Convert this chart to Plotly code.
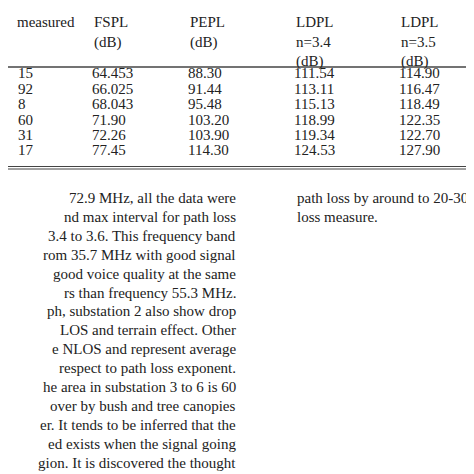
import plotly.graph_objects as go

# table contents (left part of the table is cropped in the scan)
header_cols = ["measured", "FSPL<br>(dB)", "PEPL<br>(dB)", "LDPL<br>n=3.4<br>(dB)", "LDPL<br>n=3.5<br>(dB)"]
measured = ["15", "92", "8", "60", "31", "17"]
fspl = ["64.453", "66.025", "68.043", "71.90", "72.26", "77.45"]
pepl = ["88.30", "91.44", "95.48", "103.20", "103.90", "114.30"]
ldpl34 = ["111.54", "113.11", "115.13", "118.99", "119.34", "124.53"]
ldpl35 = ["114.90", "116.47", "118.49", "122.35", "122.70", "127.90"]

left_text = [
    "72.9 MHz, all the data were",
    "nd max interval for path loss",
    "3.4 to 3.6. This frequency band",
    "rom 35.7 MHz with good signal",
    "good voice quality at the same",
    "rs than frequency 55.3 MHz.",
    "ph, substation 2 also show drop",
    "LOS and terrain effect. Other",
    "e NLOS and represent average",
    "respect to path loss exponent.",
    "he area in substation 3 to 6 is 60",
    "over by bush and tree canopies",
    "er. It tends to be inferred that the",
    "ed exists when the signal going",
    "gion. It is discovered the thought",
    "ungle reflection could lessen total",
]
right_text = ["path loss by around to 20-30", "loss measure."]

FONT = "Liberation Serif, Times New Roman, serif"
INK = "#222222"

col_x = [-1, 76, 172, 278, 383]
row_y = [58, 74, 89, 105, 120, 135]

fig = go.Figure()

for i, h in enumerate(header_cols):
    fig.add_annotation(x=col_x[i], y=-4, text=h, xanchor="left", yanchor="top",
                       align="left", showarrow=False,
                       font=dict(family=FONT, size=15, color=INK))

cols = [measured, fspl, pepl, ldpl34, ldpl35]
for ci, col in enumerate(cols):
    x0 = 2 if ci == 0 else col_x[ci]
    fig.add_trace(go.Scatter(
        x=[x0] * len(col), y=row_y, text=col, mode="text",
        textposition="middle right",
        textfont=dict(family=FONT, size=15, color=INK),
        hoverinfo="skip", showlegend=False, cliponaxis=False,
    ))

# rules of the table
for y, w in [(51, 1.6), (150.5, 1), (153, 1)]:
    fig.add_shape(type="line", x0=-10, x1=480, y0=y, y1=y,
                  line=dict(color="#444444", width=w))

# body text
for i, line in enumerate(left_text):
    fig.add_annotation(x=222, y=182 + i * 18.9, text=line, xanchor="right",
                       yanchor="middle", showarrow=False,
                       font=dict(family=FONT, size=15, color=INK))
for i, line in enumerate(right_text):
    fig.add_annotation(x=279, y=182 + i * 18.9, text=line, xanchor="left",
                       yanchor="middle", showarrow=False,
                       font=dict(family=FONT, size=15, color=INK))

# the page adds an ~8px body margin, so shift the coordinate frame
fig.update_xaxes(range=[-8, 466], visible=False, fixedrange=True)
fig.update_yaxes(range=[466, -8], visible=False, fixedrange=True)
fig.update_layout(
    width=474, height=474,
    margin=dict(l=0, r=0, t=0, b=0),
    paper_bgcolor="white", plot_bgcolor="white",
)

fig.write_html("out.html")
